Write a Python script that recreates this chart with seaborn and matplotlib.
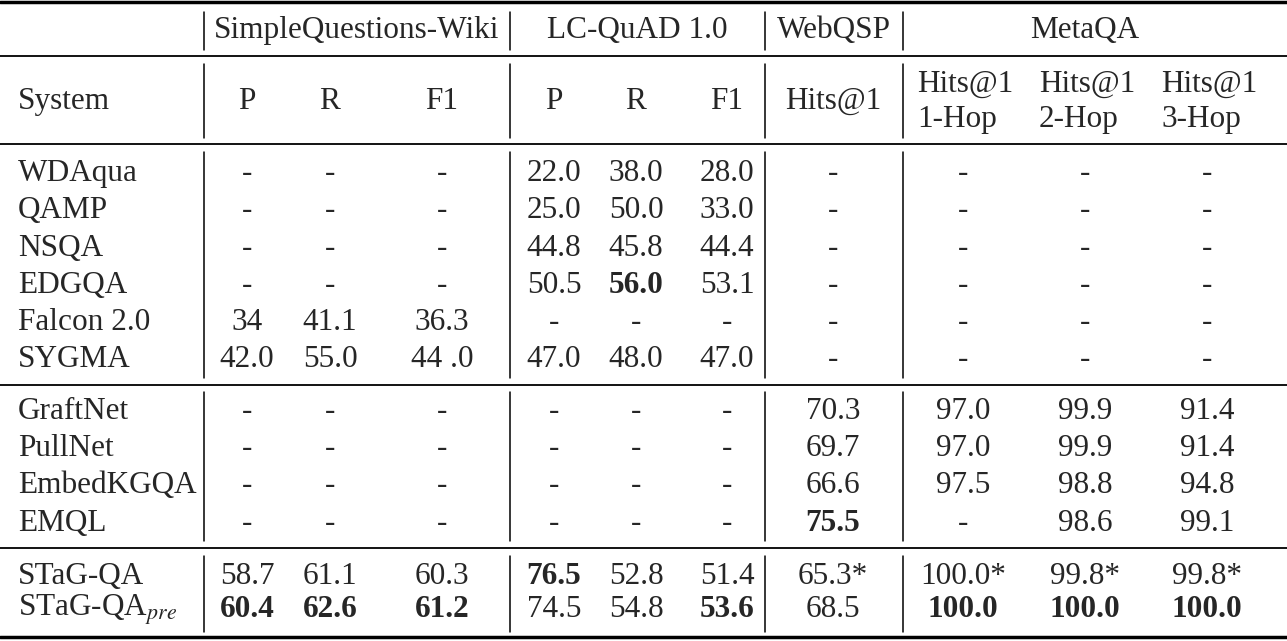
import matplotlib
matplotlib.use("Agg")
import matplotlib.pyplot as plt
import seaborn as sns

# Table contents
systems = ["WDAqua", "QAMP", "NSQA", "EDGQA", "Falcon 2.0", "SYGMA",
           "GraftNet", "PullNet", "EmbedKGQA", "EMQL",
           "STaG-QA", r"STaG-QA$_{pre}$"]
sq_p = ["-", "-", "-", "-", "34", "42.0", "-", "-", "-", "-", "58.7", "60.4"]
sq_r = ["-", "-", "-", "-", "41.1", "55.0", "-", "-", "-", "-", "61.1", "62.6"]
sq_f1 = ["-", "-", "-", "-", "36.3", "44 .0", "-", "-", "-", "-", "60.3", "61.2"]
lc_p = ["22.0", "25.0", "44.8", "50.5", "-", "47.0", "-", "-", "-", "-", "76.5", "74.5"]
lc_r = ["38.0", "50.0", "45.8", "56.0", "-", "48.0", "-", "-", "-", "-", "52.8", "54.8"]
lc_f1 = ["28.0", "33.0", "44.4", "53.1", "-", "47.0", "-", "-", "-", "-", "51.4", "53.6"]
webqsp = ["-", "-", "-", "-", "-", "-", "70.3", "69.7", "66.6", "75.5", "65.3*", "68.5"]
meta_1hop = ["-", "-", "-", "-", "-", "-", "97.0", "97.0", "97.5", "-", "100.0*", "100.0"]
meta_2hop = ["-", "-", "-", "-", "-", "-", "99.9", "99.9", "98.8", "98.6", "99.8*", "100.0"]
meta_3hop = ["-", "-", "-", "-", "-", "-", "91.4", "91.4", "94.8", "99.1", "99.8*", "100.0"]
# (row, column) of bold cells
bold_cells = {(3, 4), (9, 6), (10, 3), (11, 0), (11, 1), (11, 2), (11, 5),
              (11, 7), (11, 8), (11, 9)}

groups = ["SimpleQuestions-Wiki", "LC-QuAD 1.0", "WebQSP", "MetaQA"]
sub_headers = ["P", "R", "F1", "P", "R", "F1", "Hits@1",
               "Hits@1\n1-Hop", "Hits@1\n2-Hop", "Hits@1\n3-Hop"]

columns = [sq_p, sq_r, sq_f1, lc_p, lc_r, lc_f1, webqsp,
           meta_1hop, meta_2hop, meta_3hop]

sns.set_theme(style="white")
plt.rcParams["font.family"] = ["Liberation Serif", "DejaVu Serif"]
plt.rcParams["mathtext.fontset"] = "stix"

W, H = 1287, 641
fig = plt.figure(figsize=(W / 100, H / 100), dpi=100)
ax = fig.add_axes([0, 0, 1, 1])
ax.set_xlim(0, W)
ax.set_ylim(H, 0)
ax.axis("off")

fs = 22.5
base = 9  # baseline offset below the row centre
col_x = [247, 330, 442, 554, 636, 727, 833, 963, 1085, 1207]
group_x = [357, 637, 834, 1085]
vlines = [204, 510, 765, 903]
row_y = [172, 209, 247, 284, 321, 358, 410, 447, 484, 522, 575, 608]


def put(x, y, s, ha="center", **kw):
    ax.text(x, y + base, s, ha=ha, va="baseline", fontsize=fs, **kw)


# horizontal rules
ax.axhline(2, color="black", lw=2.5)
ax.axhline(637, color="black", lw=2.5)
for y in [56, 144, 385, 548]:
    ax.axhline(y, color="black", lw=1.3)

# vertical rules, broken around the horizontal ones
for y0, y1 in [(12, 50), (64, 138), (152, 378), (392, 541), (556, 632)]:
    for x in vlines:
        ax.plot([x, x], [y0, y1], color="black", lw=1.1)

# headers
for g, x in zip(groups, group_x):
    put(x, 29, g)
put(18, 100, "System", ha="left")
for h, x in zip(sub_headers, col_x):
    if "\n" in h:
        top, bottom = h.split("\n")
        put(x - 46, 83, top, ha="left")
        put(x - 46, 118, bottom, ha="left")
    else:
        put(x, 100, h)

# body
for r, (name, y) in enumerate(zip(systems, row_y)):
    put(18, y, name, ha="left")
    for c, (col, x) in enumerate(zip(columns, col_x)):
        weight = "bold" if (r, c) in bold_cells else "normal"
        put(x, y, col[r], fontweight=weight)

fig.savefig("out.png", dpi=100)
